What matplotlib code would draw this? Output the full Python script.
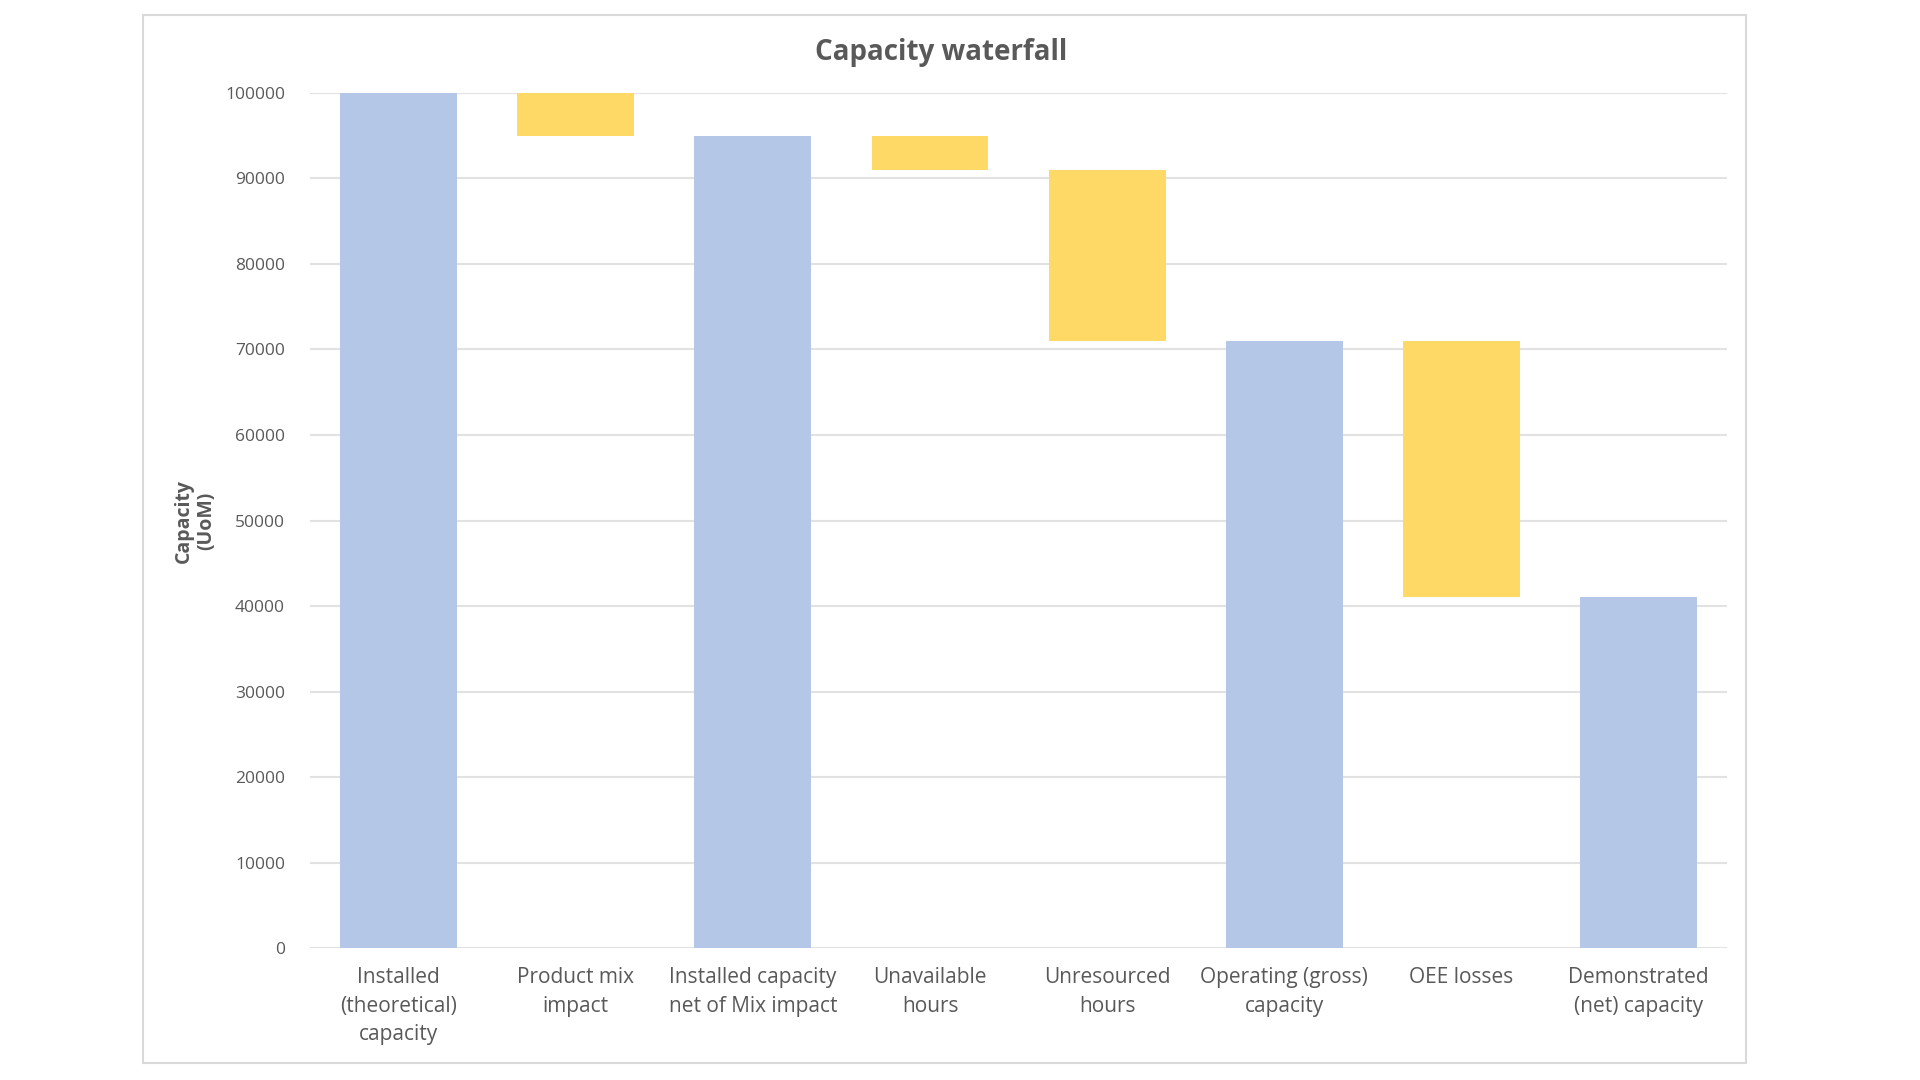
import matplotlib.pyplot as plt
from matplotlib.patches import Rectangle

plt.rcParams['font.family'] = ['Open Sans', 'DejaVu Sans']

categories = ['Installed\n(theoretical)\ncapacity', 'Product mix\nimpact',
              'Installed capacity\nnet of Mix impact', 'Unavailable\nhours',
              'Unresourced\nhours', 'Operating (gross)\ncapacity', 'OEE losses',
              'Demonstrated\n(net) capacity']
# top and bottom of each bar
tops = [100000, 100000, 95000, 95000, 91000, 71000, 71000, 41000]
bottoms = [0, 95000, 0, 91000, 71000, 0, 41000, 0]
is_total = [True, False, True, False, False, True, False, True]

BLUE = '#b4c7e7'
YELLOW = '#ffd966'
GREY = '#595959'
GRID = '#e2e2e2'

fig = plt.figure(figsize=(19.2, 10.8), dpi=100)
fig.patches.append(Rectangle((0.0745, 0.016), 0.835, 0.970, transform=fig.transFigure,
                             fill=False, edgecolor='#d9d9d9', linewidth=1.5))

ax = fig.add_axes([0.1615, 0.1222, 0.738, 0.7917])
x = range(len(categories))
heights = [t - b for t, b in zip(tops, bottoms)]
colors = [BLUE if t else YELLOW for t in is_total]
ax.bar(x, heights, bottom=bottoms, width=0.66, color=colors, zorder=2)

ax.set_xlim(-0.5, len(categories) - 0.5)
ax.set_ylim(0, 100000)
ax.set_yticks(range(0, 100001, 10000))
ax.set_yticklabels([str(v) for v in range(0, 100001, 10000)])
ax.set_xticks(list(x))
ax.set_xticklabels(categories, fontsize=15, color=GREY, linespacing=1.45)
ax.tick_params(axis='y', labelsize=12.5, labelcolor=GREY, length=0, pad=18)
ax.tick_params(axis='x', length=0, pad=14)
ax.grid(axis='y', color=GRID, linewidth=1.5, zorder=0)
for s in ax.spines.values():
    s.set_visible(False)

ax.set_ylabel('Capacity\n(UoM)', fontsize=14, fontweight='bold', color=GREY, labelpad=6)
fig.text(0.49, 0.951, 'Capacity waterfall', ha='center', va='center', fontsize=20,
         fontweight='bold', color=GREY)

fig.savefig('out.png', dpi=100, facecolor='white')
